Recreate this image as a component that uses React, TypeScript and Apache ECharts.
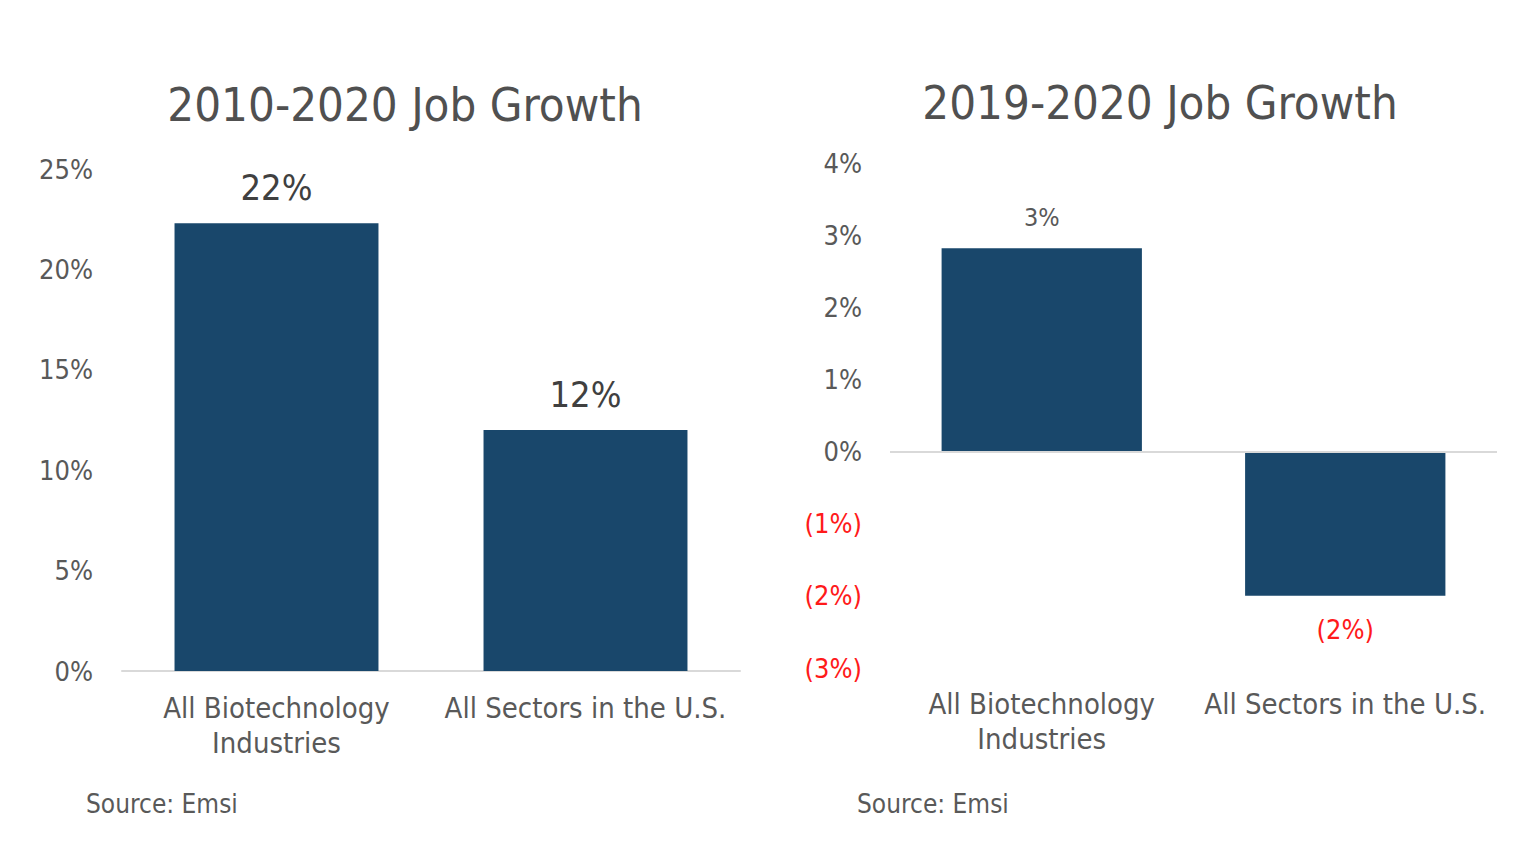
import * as echarts from 'echarts';
import { useEffect, useRef } from 'react';

// 数据
const categories = ['All Biotechnology\nIndustries', 'All Sectors in the U.S.'];
const growth2010to2020 = [22.3, 12.0];
const growth2019to2020 = [2.82, -2.0];
const titles = ['2010-2020 Job Growth', '2019-2020 Job Growth'];
const sourceNote = 'Source: Emsi';

const FONT = '"DejaVu Sans Condensed", "Liberation Sans Narrow", sans-serif';
const GREY = '#595959';
const RED = '#ff1a1a';
const BAR = '#19476b';

const pct = (v: number) => {
  const r = Math.round(v);
  return r < 0 ? `(${Math.abs(r)}%)` : `${r}%`;
};

const catAxisLabel = {
  color: GREY,
  fontSize: 29,
  fontFamily: FONT,
  lineHeight: 35,
  interval: 0,
};

const getOptions = (): echarts.EChartsOption => ({
  animation: false,
  textStyle: { fontFamily: FONT },
  title: [
    {
      text: titles[0],
      left: 400,
      top: 76,
      textAlign: 'center',
      textStyle: { fontFamily: FONT, fontSize: 47, fontWeight: 'normal', color: '#505050' },
    },
    {
      text: titles[1],
      left: 1155,
      top: 74,
      textAlign: 'center',
      textStyle: { fontFamily: FONT, fontSize: 47, fontWeight: 'normal', color: '#505050' },
    },
  ],
  grid: [
    { left: 122, top: 169, width: 618, height: 502 },
    { left: 890, top: 163, width: 607, height: 505 },
  ],
  xAxis: [
    {
      type: 'category',
      gridIndex: 0,
      data: categories,
      axisTick: { show: false },
      axisLine: { lineStyle: { color: '#d9d9d9', width: 2 } },
      axisLabel: { ...catAxisLabel, margin: 19 },
    },
    {
      type: 'category',
      gridIndex: 1,
      data: categories,
      axisTick: { show: false },
      axisLine: { show: false, onZero: false },
      axisLabel: { ...catAxisLabel, margin: 18 },
    },
  ],
  yAxis: [
    {
      type: 'value',
      gridIndex: 0,
      min: 0,
      max: 25,
      interval: 5,
      splitLine: { show: false },
      axisLabel: {
        color: GREY,
        fontSize: 27,
        fontFamily: FONT,
        margin: 29,
        formatter: (v: number) => pct(v),
      },
    },
    {
      type: 'value',
      gridIndex: 1,
      min: -3,
      max: 4,
      interval: 1,
      splitLine: { show: false },
      axisLabel: {
        fontSize: 27,
        fontFamily: FONT,
        margin: 28,
        formatter: (v: number) => pct(v),
        color: ((v: any) => (Number(v) < 0 ? RED : GREY)) as any,
      },
    },
  ],
  series: [
    {
      type: 'bar',
      xAxisIndex: 0,
      yAxisIndex: 0,
      barWidth: '66%',
      data: growth2010to2020,
      itemStyle: { color: BAR },
      label: {
        show: true,
        position: 'top',
        distance: 18,
        fontSize: 36,
        fontFamily: FONT,
        color: '#404040',
        formatter: (p: any) => pct(p.value),
      },
    },
    {
      type: 'bar',
      xAxisIndex: 1,
      yAxisIndex: 1,
      barWidth: '66%',
      data: growth2019to2020.map((v) => ({
        value: v,
        label: { color: v < 0 ? RED : GREY, fontSize: v < 0 ? 27 : 25, distance: v < 0 ? 20 : 18 },
      })),
      itemStyle: { color: BAR },
      label: {
        show: true,
        position: 'outside',
        fontFamily: FONT,
        formatter: (p: any) => pct(p.value),
      },
      markLine: {
        silent: true,
        symbol: 'none',
        label: { show: false },
        lineStyle: { color: '#d9d9d9', width: 2, type: 'solid' },
        data: [{ yAxis: 0 }],
      },
    },
  ],
  graphic: [
    {
      type: 'text',
      left: 86,
      top: 791,
      style: { text: sourceNote, fontSize: 26, fontFamily: FONT, fill: GREY },
    },
    {
      type: 'text',
      left: 857,
      top: 791,
      style: { text: sourceNote, fontSize: 26, fontFamily: FONT, fill: GREY },
    },
  ],
});

export default function App() {
  const chartRef = useRef<HTMLDivElement>(null);

  useEffect(() => {
    if (!chartRef.current) return;
    const chart = echarts.init(chartRef.current, undefined, { renderer: 'svg' });
    chart.setOption(getOptions());
    return () => {
      chart.dispose();
    };
  }, []);

  return (
    <div
      ref={chartRef}
      style={{ position: 'absolute', left: 0, top: 0, width: 1540, height: 851, background: '#fff' }}
    />
  );
}
